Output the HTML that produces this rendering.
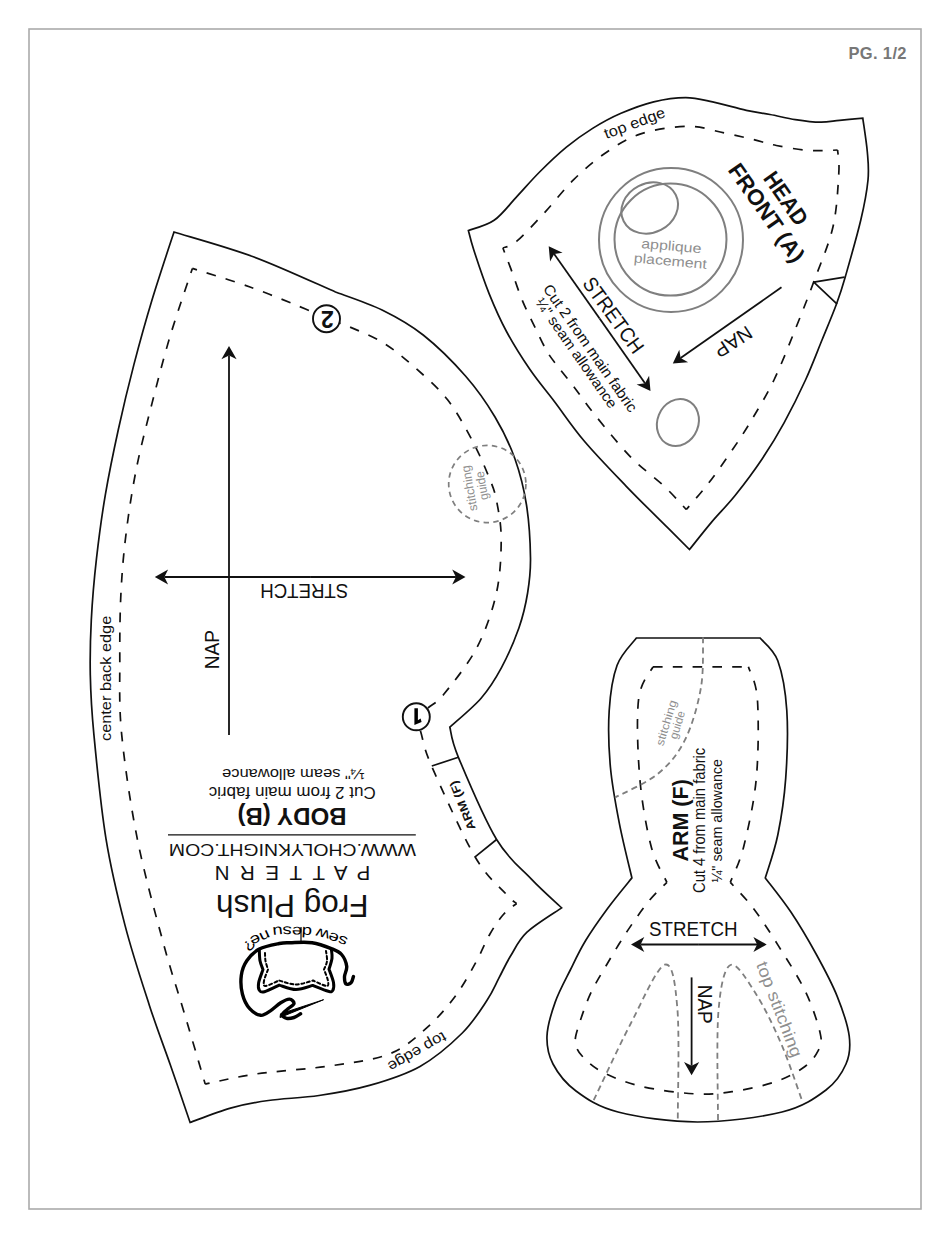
<!DOCTYPE html>
<html><head><meta charset="utf-8"><style>
html,body{margin:0;padding:0;background:#fff;}
svg{display:block;}
text{font-family:"Liberation Sans",sans-serif;}
</style></head><body>
<svg width="950" height="1238" viewBox="0 0 950 1238">
<rect x="29" y="29" width="892" height="1180" fill="none" stroke="#ababab" stroke-width="1.6"/>
<path d="M174.0 232.0 C187.3 236.2 227.1 247.0 254.0 257.0 C280.9 267.0 321.9 286.2 335.5 292.0 C343.3 295.0 367.5 302.8 382.1 310.0 C396.7 317.2 409.3 324.0 423.2 335.0 C437.1 346.0 453.5 362.3 465.5 376.0 C477.5 389.7 486.8 403.2 495.0 417.0 C503.2 430.8 509.8 444.3 515.0 459.0 C520.2 473.7 523.9 488.5 526.5 505.0 C529.1 521.5 530.3 543.3 530.5 558.0 C530.7 572.7 529.5 581.3 527.6 593.0 C525.7 604.7 523.2 615.6 518.9 628.0 C514.5 640.4 507.8 655.9 501.5 667.6 C495.2 679.3 489.7 688.3 481.1 698.2 C472.5 708.1 455.0 722.3 449.8 727.1 C451.2 732.1 450.6 738.6 458.4 757.3 C466.2 776.0 484.4 819.2 496.6 839.5 C508.8 859.8 520.6 867.8 531.4 879.2 C542.2 890.6 556.6 903.1 561.6 907.9 C555.8 912.0 535.5 924.2 527.0 932.2 C518.5 940.2 515.4 948.2 510.7 955.8 C506.0 963.4 502.9 970.5 499.0 977.9 C495.1 985.3 493.3 990.8 487.2 1000.0 C481.1 1009.2 473.5 1021.9 462.3 1033.0 C451.1 1044.1 435.5 1057.7 420.0 1066.4 C404.5 1075.1 386.3 1080.6 369.5 1085.4 C352.7 1090.2 335.9 1093.0 319.0 1095.5 C302.1 1098.0 283.1 1098.4 268.4 1100.5 C253.6 1102.6 243.6 1104.4 230.5 1108.1 C217.4 1111.8 196.8 1120.1 190.1 1122.5 C186.8 1112.8 177.0 1084.0 170.2 1064.5 C163.4 1045.0 156.9 1028.5 149.4 1005.4 C141.9 982.2 132.3 953.4 125.1 925.6 C117.9 897.8 111.2 870.6 106.0 838.8 C100.8 807.0 96.5 762.0 93.9 734.7 C91.3 707.4 90.7 694.1 90.3 675.0 C89.9 655.9 90.3 639.4 91.3 620.0 C92.3 600.6 94.1 579.4 96.5 558.4 C98.9 537.4 101.8 515.3 105.5 493.8 C109.2 472.3 113.7 450.7 118.4 429.2 C123.1 407.7 128.3 386.1 133.9 364.6 C139.5 343.1 145.3 322.1 152.0 300.0 C158.7 277.9 170.3 243.3 174.0 232.0 Z" fill="none" stroke="#111" stroke-width="1.7" stroke-linejoin="miter"/>
<path d="M416.3 716.8 C418.3 715.2 423.9 711.3 428.5 707.5 C433.1 703.7 435.9 704.0 444.0 694.0 C452.1 684.0 468.3 664.2 477.0 647.4 C485.7 630.6 492.4 611.2 496.4 593.1 C500.4 575.0 501.2 554.3 501.2 538.8 C501.2 523.3 498.3 510.1 496.4 500.0 C494.4 489.9 493.4 488.2 489.5 478.5 C485.6 468.8 480.0 455.2 473.0 442.0 C466.0 428.8 457.3 412.1 447.4 399.5 C437.5 386.9 424.4 375.9 413.7 366.5 C403.0 357.1 394.2 349.5 383.4 342.9 C372.6 336.3 358.5 330.7 349.0 326.7 C339.5 322.7 330.2 320.0 326.5 318.7" fill="none" stroke="#111" stroke-width="1.7" stroke-dasharray="9.60 10.20" stroke-dashoffset="5.20"/>
<path d="M416.3 716.8 C417.0 719.3 418.1 723.5 420.7 731.8 C423.3 740.1 422.8 745.7 431.8 766.5 C440.9 787.3 462.6 835.6 475.0 856.8 C487.4 878.0 499.0 886.1 505.9 893.9 C512.8 901.7 514.8 901.9 516.6 903.5" fill="none" stroke="#111" stroke-width="1.7" stroke-dasharray="9.49 10.08" stroke-dashoffset="4.98"/>
<path d="M516.6 903.5 C514.4 905.3 507.8 909.5 503.4 914.5 C499.0 919.5 494.8 925.6 490.1 933.7 C485.4 941.8 481.3 952.7 475.4 963.2 C469.5 973.8 462.8 986.2 454.7 997.0 C446.6 1007.8 437.5 1018.3 426.7 1027.8 C415.9 1037.3 405.5 1047.5 389.7 1053.8 C373.9 1060.1 353.9 1062.3 331.6 1065.7 C309.3 1069.1 276.9 1070.9 255.8 1074.0 C234.7 1077.1 213.6 1082.4 205.2 1084.1" fill="none" stroke="#111" stroke-width="1.7" stroke-dasharray="9.40 9.99" stroke-dashoffset="4.70"/>
<path d="M205.2 1084.1 C201.7 1072.1 191.1 1035.9 184.1 1012.4 C177.1 988.9 171.1 971.9 163.3 943.0 C155.5 914.1 144.2 873.5 137.3 838.8 C130.4 804.1 124.6 764.5 121.7 734.7 C118.8 704.9 119.9 683.8 119.8 660.0 C119.7 636.2 119.9 613.2 121.0 592.0 C122.1 570.8 123.6 553.3 126.2 532.6 C128.8 511.9 132.2 489.5 136.5 468.0 C140.8 446.5 146.4 425.4 152.0 403.4 C157.6 381.4 163.4 358.7 170.1 336.2 C176.8 313.7 188.7 279.7 192.4 268.4" fill="none" stroke="#111" stroke-width="1.7" stroke-dasharray="9.64 10.24" stroke-dashoffset="4.82"/>
<path d="M192.4 268.4 C202.0 271.5 231.2 280.2 250.0 287.0 C268.9 293.8 292.8 303.7 305.5 309.0 C318.2 314.3 323.0 317.1 326.5 318.7" fill="none" stroke="#111" stroke-width="1.7" stroke-dasharray="9.60 10.20" stroke-dashoffset="4.80"/>
<path d="M458.4 757.3 L431.8 766 M496.6 839.5 L475.1 856.8" stroke="#111" stroke-width="1.7"/>
<circle cx="326.5" cy="318.7" r="13.5" fill="#fff" stroke="#111" stroke-width="1.9"/>
<circle cx="416.3" cy="716.8" r="13.5" fill="#fff" stroke="#111" stroke-width="1.9"/>
<circle cx="487.3" cy="484" r="38.6" fill="none" stroke="#7f7f7f" stroke-width="1.7" stroke-dasharray="5.5 4.3"/>
<path d="M229.0 735.0 L229.0 355.6" stroke="#111" stroke-width="1.8"/><path d="M229.0 346.0 L236.6 359.3 L229.0 355.6 L221.4 359.3 Z" fill="#111"/>
<path d="M310.1 577.0 L455.9 577.0" stroke="#111" stroke-width="1.8"/><path d="M465.5 577.0 L452.2 584.6 L455.9 577.0 L452.2 569.4 Z" fill="#111"/><path d="M310.1 577.0 L164.4 577.0" stroke="#111" stroke-width="1.8"/><path d="M154.8 577.0 L168.1 569.4 L164.4 577.0 L168.1 584.6 Z" fill="#111"/>
<line x1="168" y1="834.9" x2="415.8" y2="834.9" stroke="#111" stroke-width="1.3"/>
<path d="M468.4 230.5 C472.7 228.8 486.0 226.0 494.1 220.3 C502.2 214.7 509.2 204.7 516.8 196.6 C524.4 188.5 531.4 180.2 539.6 172.0 C547.8 163.8 557.3 154.7 566.1 147.4 C574.9 140.1 583.5 134.1 592.6 128.4 C601.8 122.7 610.8 117.7 621.0 113.3 C631.2 108.9 642.9 104.4 653.7 101.8 C664.5 99.2 675.9 97.6 685.7 97.6 C695.5 97.6 702.5 99.7 712.6 101.8 C722.7 103.9 736.7 108.2 746.3 110.3 C755.9 112.4 761.8 113.0 770.0 114.5 C778.2 116.0 786.9 118.3 795.3 119.6 C803.7 120.9 813.1 122.1 820.5 122.2 C827.9 122.3 832.5 121.0 839.5 120.3 C846.5 119.6 858.9 118.5 862.8 118.1 C863.5 123.7 866.4 141.5 867.3 151.8 C868.2 162.1 869.1 168.6 868.0 180.0 C866.9 191.4 864.6 203.9 860.8 220.0 C857.0 236.1 849.4 262.5 845.4 276.5 C841.4 290.5 840.4 293.4 836.5 304.0 C832.6 314.6 827.2 327.3 822.0 340.0 C816.8 352.7 811.8 366.2 805.5 380.0 C799.2 393.8 791.4 409.4 784.2 422.6 C777.0 435.8 770.2 446.9 762.1 459.0 C754.0 471.1 743.7 484.8 735.3 495.3 C726.9 505.8 719.2 513.1 711.6 522.1 C704.0 531.1 693.2 544.9 689.5 549.5 C686.0 546.0 678.9 538.9 668.4 528.4 C657.9 517.9 640.3 500.9 626.3 486.3 C612.3 471.7 596.2 455.2 584.2 441.0 C572.2 426.8 563.1 412.9 554.0 401.0 C544.9 389.1 537.7 380.9 529.8 369.3 C521.9 357.7 513.3 344.1 506.5 331.5 C499.7 318.9 494.6 307.2 489.1 293.6 C483.7 280.0 477.2 260.5 473.8 250.0 C470.4 239.5 469.3 233.8 468.4 230.5 Z" fill="none" stroke="#111" stroke-width="1.7"/>
<path d="M502.9 248.0 C505.2 246.9 509.7 247.2 516.8 241.2 C523.9 235.2 535.8 222.1 545.3 211.8 C554.8 201.5 563.9 189.2 573.7 179.6 C583.5 170.0 593.0 161.6 604.0 154.0 C615.0 146.4 626.1 138.7 640.0 134.1 C653.9 129.5 673.3 126.5 687.4 126.3 C701.5 126.1 713.5 130.8 724.4 133.0 C735.3 135.2 744.4 137.4 753.0 139.5 C761.6 141.6 767.8 143.8 776.3 145.5 C784.8 147.2 796.3 149.2 804.1 150.0 C811.9 150.8 817.4 150.6 823.0 150.6 C828.6 150.6 835.2 150.1 837.6 150.0" fill="none" stroke="#111" stroke-width="1.7" stroke-dasharray="9.74 10.35" stroke-dashoffset="4.87"/>
<path d="M837.6 150.0 C837.8 153.9 839.6 160.5 838.8 173.3 C838.0 186.1 837.1 208.8 833.0 226.8 C828.9 244.8 820.2 264.2 813.9 281.4 C807.6 298.6 801.6 313.6 795.0 330.0 C788.4 346.4 781.3 364.8 774.0 380.0 C766.7 395.2 758.2 408.9 751.0 421.0 C743.8 433.1 737.6 442.2 730.5 452.6 C723.4 463.0 715.8 473.9 708.4 483.4 C701.0 492.9 690.0 505.1 686.3 509.5" fill="none" stroke="#111" stroke-width="1.7" stroke-dasharray="9.66 10.26" stroke-dashoffset="4.83"/>
<path d="M686.3 509.5 C682.6 505.6 673.5 495.1 664.2 486.3 C654.9 477.5 642.1 468.7 630.5 456.8 C618.9 444.9 604.1 426.3 594.7 414.7 C585.3 403.1 580.2 395.1 574.0 387.0 C567.8 378.9 562.0 371.9 557.5 366.0 C553.0 360.1 550.9 358.1 547.3 351.8 C543.6 345.6 539.7 337.0 535.6 328.5 C531.5 320.0 526.6 310.8 522.5 300.9 C518.4 291.0 514.2 277.7 510.9 268.9 C507.6 260.1 504.2 251.5 502.9 248.0" fill="none" stroke="#111" stroke-width="1.7" stroke-dasharray="9.82 10.43" stroke-dashoffset="4.91"/>
<path d="M813.8 282.2 L844.6 277.2 M813.8 282.2 L837.1 304.2" stroke="#111" stroke-width="1.7" fill="none"/>
<circle cx="671" cy="240" r="72" fill="none" stroke="#7f7f7f" stroke-width="2"/>
<circle cx="670.5" cy="239.6" r="56" fill="none" stroke="#7f7f7f" stroke-width="2"/>
<ellipse cx="649.7" cy="208" rx="29.2" ry="24.6" transform="rotate(-27 649.7 208)" fill="none" stroke="#7f7f7f" stroke-width="2"/>
<ellipse cx="677.9" cy="422.5" rx="20.5" ry="24" transform="rotate(22 677.9 422.5)" fill="none" stroke="#7f7f7f" stroke-width="2"/>
<path d="M599.6 318.6 L645.0 383.2" stroke="#111" stroke-width="1.8"/><path d="M650.5 391.0 L636.6 384.5 L645.0 383.2 L649.1 375.7 Z" fill="#111"/><path d="M599.6 318.6 L554.2 254.1" stroke="#111" stroke-width="1.8"/><path d="M548.7 246.3 L562.6 252.8 L554.2 254.1 L550.1 261.6 Z" fill="#111"/>
<path d="M781.5 287.3 L680.6 358.1" stroke="#111" stroke-width="1.8"/><path d="M672.8 363.6 L679.3 349.7 L680.6 358.1 L688.1 362.2 Z" fill="#111"/>
<path d="M636.4 638.0 L760.1 638.0 C763.0 641.8 773.3 648.6 777.8 660.7 C782.2 672.8 785.5 690.9 786.8 710.5 C788.1 730.1 787.2 757.6 785.7 778.4 C784.2 799.1 781.2 818.4 777.8 835.0 C774.4 851.6 767.4 870.8 765.3 877.9 C769.6 883.6 782.4 899.3 790.9 912.0 C799.4 924.7 808.4 940.0 816.1 954.0 C823.8 968.0 831.6 982.4 837.1 996.1 C842.6 1009.8 847.7 1024.7 849.2 1036.0 C850.7 1047.3 849.9 1055.0 846.0 1064.0 C842.1 1073.0 836.7 1082.0 826.0 1090.0 C815.3 1098.0 803.4 1106.7 782.0 1112.0 C760.6 1117.3 724.8 1122.0 697.5 1122.0 C670.2 1122.0 638.2 1117.2 618.0 1112.0 C597.8 1106.8 586.8 1099.0 576.0 1091.0 C565.2 1083.0 557.8 1073.2 553.0 1064.0 C548.2 1054.8 546.6 1046.3 547.0 1036.0 C547.4 1025.7 551.3 1013.1 555.2 1002.1 C559.1 991.1 565.2 980.2 570.3 970.0 C575.3 959.8 579.3 950.9 585.5 940.7 C591.7 930.5 599.7 919.2 607.4 908.7 C615.1 898.2 627.8 883.0 631.9 877.9 C629.8 868.9 623.0 842.1 619.4 823.6 C615.8 805.1 612.1 785.9 610.4 767.0 C608.7 748.1 608.1 727.5 609.2 710.5 C610.3 693.5 612.6 677.3 617.1 665.2 C621.6 653.1 633.2 642.5 636.4 638.0 Z" fill="none" stroke="#111" stroke-width="1.7"/>
<path d="M653.0 666.8 L748.4 666.8" fill="none" stroke="#111" stroke-width="1.7" stroke-dasharray="9.60 10.20" stroke-dashoffset="0.00"/>
<path d="M748.4 666.8 C749.9 672.2 756.1 680.6 757.4 699.2 C758.7 717.8 758.6 753.9 756.3 778.4 C754.0 802.9 748.1 828.9 743.8 846.2 C739.5 863.5 732.5 876.4 730.3 882.4" fill="none" stroke="#111" stroke-width="1.7" stroke-dasharray="9.73 10.34" stroke-dashoffset="4.87"/>
<path d="M730.3 882.4 C734.1 886.6 745.0 897.3 753.0 907.8 C761.0 918.3 769.5 931.6 778.3 945.6 C787.1 959.6 798.6 977.2 805.6 991.9 C812.6 1006.6 818.2 1024.1 820.3 1033.9 C822.4 1043.7 821.0 1045.1 818.2 1050.7 C815.4 1056.3 810.9 1062.2 803.5 1067.5 C796.1 1072.8 785.9 1078.2 774.0 1082.2 C762.1 1086.2 745.3 1089.8 732.0 1091.7 C718.7 1093.6 709.4 1094.7 694.2 1093.8 C679.0 1092.9 656.3 1089.9 641.0 1086.3 C625.7 1082.7 612.1 1077.0 602.3 1072.0 C592.5 1067.0 586.6 1060.9 582.1 1056.0 C577.6 1051.1 576.0 1047.5 575.4 1042.5 C574.8 1037.5 576.2 1033.8 578.7 1025.7 C581.2 1017.6 585.7 1004.1 590.5 993.7 C595.3 983.3 601.2 974.0 607.4 963.5 C613.6 953.0 620.6 941.1 627.6 930.6 C634.6 920.1 643.0 908.3 649.5 900.3 C656.0 892.3 664.0 885.4 666.9 882.4" fill="none" stroke="#111" stroke-width="1.7" stroke-dasharray="9.63 10.23" stroke-dashoffset="4.82"/>
<path d="M666.9 882.4 C664.3 876.4 655.6 863.5 651.1 846.2 C646.6 828.9 641.9 802.9 639.8 778.4 C637.7 753.9 636.4 717.8 638.6 699.2 C640.8 680.6 650.6 672.2 653.0 666.8" fill="none" stroke="#111" stroke-width="1.7" stroke-dasharray="9.86 10.47" stroke-dashoffset="4.93"/>
<path d="M703.1 637.4 C702.7 645.8 703.9 670.8 700.9 687.9 C697.9 705.0 692.2 725.6 685.0 739.9 C677.8 754.2 669.6 764.2 657.9 773.8 C646.2 783.4 622.1 793.6 614.9 797.6 " fill="none" stroke="#7f7f7f" stroke-width="1.8" stroke-dasharray="6 4.2"/>
<path d="M593.7 1100.2 C599.8 1087.7 618.2 1047.6 630.0 1025.0 C641.8 1002.4 656.8 967.4 664.7 964.7 C672.6 962.0 675.2 983.1 677.4 1009.0 C679.6 1034.9 677.7 1101.5 677.8 1120.0  M718.0 1120.0 C718.1 1102.0 716.3 1037.8 718.4 1012.0 C720.5 986.2 724.2 968.0 730.5 965.0 C736.8 962.0 747.5 980.8 756.0 994.0 C764.5 1007.2 773.9 1026.9 781.5 1044.5 C789.1 1062.1 798.4 1090.6 801.8 1099.8 " fill="none" stroke="#7f7f7f" stroke-width="1.8" stroke-dasharray="6 4.2"/>
<path d="M698.9 944.5 L757.1 944.5" stroke="#111" stroke-width="1.8"/><path d="M766.7 944.5 L753.4 952.1 L757.1 944.5 L753.4 936.9 Z" fill="#111"/><path d="M698.9 944.5 L640.6 944.5" stroke="#111" stroke-width="1.8"/><path d="M631.0 944.5 L644.3 936.9 L640.6 944.5 L644.3 952.1 Z" fill="#111"/>
<path d="M691.6 977.4 L691.6 1065.7" stroke="#111" stroke-width="1.8"/><path d="M691.6 1075.3 L684.0 1062.0 L691.6 1065.7 L699.2 1062.0 Z" fill="#111"/>
<text x="906.5" y="59" text-anchor="end" font-size="16.5" font-weight="bold" fill="#777" textLength="58" lengthAdjust="spacing">PG. 1/2</text>
<text transform="translate(293.3 768.7) rotate(180)" x="0" y="0" font-size="15.5" fill="#111" text-anchor="middle" textLength="142.6" lengthAdjust="spacingAndGlyphs">¼" seam allowance</text>
<text transform="translate(292.2 787.0) rotate(180)" x="0" y="0" font-size="16" fill="#111" text-anchor="middle" textLength="167" lengthAdjust="spacingAndGlyphs">Cut 2 from main fabric</text>
<text transform="translate(292.0 808.0) rotate(180)" x="0" y="0" font-size="23.3" fill="#111" text-anchor="middle" font-weight="bold" textLength="109" lengthAdjust="spacingAndGlyphs">BODY (B)</text>
<text transform="translate(292.4 843.7) rotate(180)" x="0" y="0" font-size="16.7" fill="#111" text-anchor="middle" textLength="247" lengthAdjust="spacingAndGlyphs">WWW.CHOLYKNIGHT.COM</text>
<text transform="translate(292.4 865.6) rotate(180)" x="0" y="0" font-size="20.5" fill="#111" text-anchor="middle" textLength="155.5" lengthAdjust="spacing">PATTERN</text>
<text transform="translate(292.3 894.9) rotate(180)" x="0" y="0" font-size="31" fill="#111" text-anchor="middle" textLength="152.4" lengthAdjust="spacingAndGlyphs">Frog Plush</text>
<text transform="translate(304.3 584.0) rotate(180)" x="0" y="0" font-size="20.5" fill="#111" text-anchor="middle" textLength="88" lengthAdjust="spacingAndGlyphs">STRETCH</text>
<text transform="translate(219.0 649.6) rotate(-90)" x="0" y="0" font-size="20.5" fill="#111" text-anchor="middle" textLength="39.3" lengthAdjust="spacingAndGlyphs">NAP</text>
<text transform="translate(110.7 678.4) rotate(-90)" x="0" y="0" font-size="15.5" fill="#111" text-anchor="middle" textLength="125.3" lengthAdjust="spacingAndGlyphs">center back edge</text>
<text transform="translate(414.5 1047.5) rotate(150)" x="0" y="0" font-size="15" fill="#111" text-anchor="middle" textLength="65" lengthAdjust="spacingAndGlyphs">top edge</text>
<text transform="translate(466.2 804.0) rotate(-111.8)" x="0" y="0" font-size="11.5" fill="#111" text-anchor="middle" font-weight="bold" textLength="52" lengthAdjust="spacingAndGlyphs">ARM (F)</text>
<text transform="translate(473.5 487.5) rotate(-100)" x="0" y="0" font-size="12.5" fill="#8f8f8f" text-anchor="middle" textLength="46" lengthAdjust="spacingAndGlyphs">stitching</text>
<text transform="translate(486.0 485.0) rotate(-100)" x="0" y="0" font-size="12.5" fill="#8f8f8f" text-anchor="middle" textLength="29" lengthAdjust="spacingAndGlyphs">guide</text>
<text transform="translate(636.3 127.8) rotate(-20.5)" x="0" y="0" font-size="15" fill="#111" text-anchor="middle" textLength="64" lengthAdjust="spacingAndGlyphs">top edge</text>
<text transform="translate(779.6 202.9) rotate(55)" x="0" y="0" font-size="22.4" fill="#111" text-anchor="middle" font-weight="bold" textLength="60" lengthAdjust="spacingAndGlyphs">HEAD</text>
<text transform="translate(760.2 217.0) rotate(55)" x="0" y="0" font-size="22.4" fill="#111" text-anchor="middle" font-weight="bold" textLength="115" lengthAdjust="spacingAndGlyphs">FRONT (A)</text>
<text transform="translate(671.0 250.6) rotate(5)" x="0" y="0" font-size="13.6" fill="#8f8f8f" text-anchor="middle" textLength="60.3" lengthAdjust="spacingAndGlyphs">applique</text>
<text transform="translate(670.0 265.7) rotate(5)" x="0" y="0" font-size="13.6" fill="#8f8f8f" text-anchor="middle" textLength="73.2" lengthAdjust="spacingAndGlyphs">placement</text>
<text transform="translate(607.7 319.4) rotate(54)" x="0" y="0" font-size="20.5" fill="#111" text-anchor="middle" textLength="88.5" lengthAdjust="spacingAndGlyphs">STRETCH</text>
<text transform="translate(586.0 351.0) rotate(55)" x="0" y="0" font-size="15" fill="#111" text-anchor="middle" textLength="152" lengthAdjust="spacingAndGlyphs">Cut 2 from main fabric</text>
<text transform="translate(572.3 355.8) rotate(55)" x="0" y="0" font-size="14.5" fill="#111" text-anchor="middle" textLength="131" lengthAdjust="spacingAndGlyphs">¼" seam allowance</text>
<text transform="translate(729.6 336.2) rotate(147)" x="0" y="0" font-size="19.5" fill="#111" text-anchor="middle" textLength="41" lengthAdjust="spacingAndGlyphs">NAP</text>
<text transform="translate(670.0 724.0) rotate(-73)" x="0" y="0" font-size="11.5" fill="#8f8f8f" text-anchor="middle" textLength="47" lengthAdjust="spacingAndGlyphs">stitching</text>
<text transform="translate(681.0 726.0) rotate(-73)" x="0" y="0" font-size="11.5" fill="#8f8f8f" text-anchor="middle" textLength="28.7" lengthAdjust="spacingAndGlyphs">guide</text>
<text transform="translate(688.0 820.4) rotate(-90)" x="0" y="0" font-size="21.5" fill="#111" text-anchor="middle" font-weight="bold" textLength="82.4" lengthAdjust="spacingAndGlyphs">ARM (F)</text>
<text transform="translate(705.4 820.4) rotate(-90)" x="0" y="0" font-size="16.4" fill="#111" text-anchor="middle" textLength="145.3" lengthAdjust="spacingAndGlyphs">Cut 4 from main fabric</text>
<text transform="translate(721.6 820.8) rotate(-90)" x="0" y="0" font-size="15" fill="#111" text-anchor="middle" textLength="123.5" lengthAdjust="spacingAndGlyphs">¼" seam allowance</text>
<text transform="translate(693.3 935.9)" x="0" y="0" font-size="19.9" fill="#111" text-anchor="middle" textLength="88.5" lengthAdjust="spacingAndGlyphs">STRETCH</text>
<text transform="translate(697.9 1004.2) rotate(90)" x="0" y="0" font-size="20" fill="#111" text-anchor="middle" textLength="39" lengthAdjust="spacingAndGlyphs">NAP</text>
<text transform="translate(774.0 1011.5) rotate(69)" x="0" y="0" font-size="17" fill="#8f8f8f" text-anchor="middle" textLength="101" lengthAdjust="spacingAndGlyphs">top stitching</text>
<text transform="translate(327.4 311.4) rotate(180)" x="0" y="0" font-size="23" fill="#111" text-anchor="middle" font-weight="bold">2</text>
<path d="M414.4 708.2 L417.9 708.2 L417.9 720.3 L420.6 718.6 L421.6 721.9 L414.4 725 Z" fill="#000"/>
<path d="M353.4 976.6 C353.0 977.6 352.4 981.3 351.2 982.5 C350.0 983.7 347.1 985.0 346.0 984.0 C344.9 983.0 344.4 979.6 344.5 976.6 C344.6 973.6 347.2 970.0 346.7 966.3 C346.2 962.6 344.2 957.5 341.6 954.5 C339.0 951.5 336.2 950.6 331.3 948.6 C326.4 946.6 319.0 943.7 312.1 942.7 C305.2 941.7 295.5 942.6 290.0 942.7 C284.5 942.8 284.3 942.5 279.2 943.5 C274.1 944.5 264.7 946.1 259.3 949.0 C253.9 951.9 249.8 956.4 246.8 960.8 C243.8 965.2 242.0 970.0 241.3 975.5 C240.6 981.0 241.0 988.5 242.4 994.0 C243.8 999.5 246.6 1005.2 249.7 1008.7 C252.8 1012.2 257.4 1014.9 260.8 1015.3 C264.2 1015.7 267.1 1013.0 270.4 1010.9 C273.7 1008.8 277.5 1004.8 280.7 1002.8 C283.9 1000.8 287.3 999.0 289.5 999.1 C291.7 999.2 294.2 1001.9 294.0 1003.5 C293.8 1005.1 290.0 1006.9 288.0 1008.7 C286.0 1010.6 282.4 1013.0 282.2 1014.6 C282.0 1016.2 284.6 1017.8 286.6 1018.3 C288.6 1018.8 291.7 1018.2 294.0 1017.5 C296.3 1016.8 299.5 1014.4 300.6 1013.8 " fill="none" stroke="#000" stroke-width="3.4" stroke-linecap="round" stroke-linejoin="round"/>
<path d="M259.3 949.7 C259.4 951.6 259.4 957.5 260.0 960.8 C260.6 964.1 262.5 968.1 263.0 969.6 C262.3 971.8 259.2 979.4 258.6 982.9 C258.0 986.4 258.5 989.0 259.5 990.5 C260.5 992.0 261.2 992.6 264.5 991.7 C267.8 990.8 276.8 986.2 279.2 985.1 C282.0 985.8 290.4 989.5 296.0 989.5 C301.6 989.5 310.0 986.1 312.8 985.4 C315.4 986.4 325.0 990.4 328.3 991.3 C331.6 992.2 331.8 992.1 332.7 990.6 C333.6 989.1 334.1 986.1 333.5 982.5 C332.9 978.9 329.8 971.4 329.0 969.2 C329.5 967.4 331.6 961.6 332.0 958.2 C332.4 954.8 331.4 950.2 331.3 948.6 " fill="none" stroke="#000" stroke-width="3.0" stroke-linejoin="round"/>
<path d="M265.0 953.0 C265.1 954.3 265.0 958.2 265.5 961.0 C266.0 963.8 267.6 968.1 268.0 969.5 C267.3 971.4 264.4 978.2 264.0 981.0 C263.6 983.8 263.0 986.1 265.5 986.0 C268.0 985.9 276.8 981.4 279.0 980.5 C281.8 981.2 290.3 984.5 296.0 984.5 C301.7 984.5 310.2 981.2 313.0 980.5 C315.2 981.4 324.0 985.9 326.5 986.0 C329.0 986.1 328.4 983.8 328.0 981.0 C327.6 978.2 324.7 971.4 324.0 969.5 C324.5 968.1 326.7 964.1 327.0 961.0 C327.3 957.9 326.2 952.7 326.0 951.0 " fill="none" stroke="#000" stroke-width="2" stroke-dasharray="3 2.6" stroke-linecap="round"/>
<path d="M280 1017.5 L323.6 999.7 L280.5 1013.8 Z" fill="#000" stroke="#000" stroke-width="1"/>
<path d="M301 927 L301 942" stroke="#000" stroke-width="1.2"/>
<path id="lp" d="M354.0 940.0 C350.7 938.8 339.6 934.9 334.0 933.0 C328.4 931.1 326.2 929.7 320.5 928.7 C314.8 927.7 307.5 927.1 300.0 926.8 C292.5 926.5 281.9 926.1 275.4 927.1 C268.9 928.1 265.6 930.5 261.0 932.5 C256.4 934.5 251.7 935.9 248.0 939.0 C244.3 942.1 240.5 949.0 239.0 951.0 " fill="none"/>
<text font-size="14.5" fill="#000"><textPath href="#lp" startOffset="50%" text-anchor="middle" textLength="114" lengthAdjust="spacingAndGlyphs">sew desu ne?</textPath></text>
</svg>
</body></html>
